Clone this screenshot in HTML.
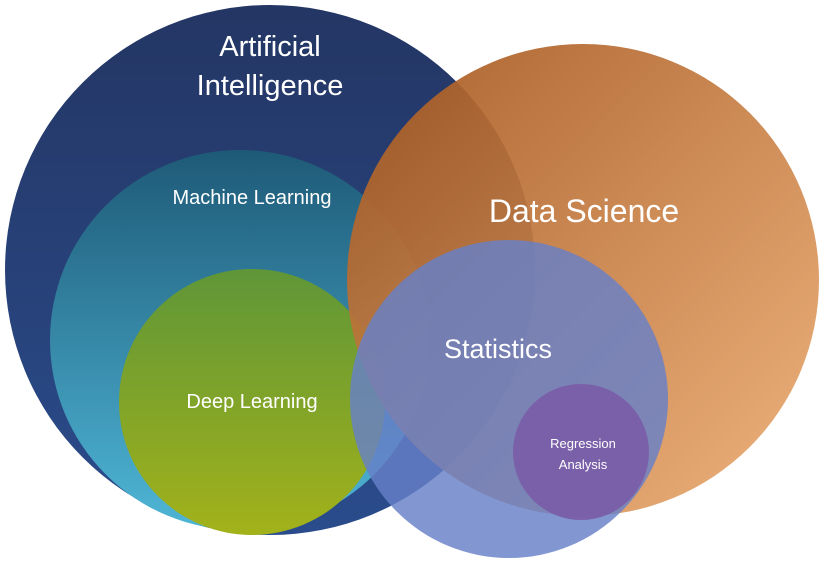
<!DOCTYPE html>
<html><head><meta charset="utf-8"><style>
html,body{margin:0;padding:0;background:#fff;}
svg{display:block}
text{font-family:"Liberation Sans",sans-serif;fill:#fff;text-anchor:middle}
</style></head><body>
<svg width="824" height="563" viewBox="0 0 824 563">
<defs>
<linearGradient id="ai" x1="0" y1="0" x2="0" y2="1"><stop offset="0" stop-color="#243664"/><stop offset="1" stop-color="#2a4c8c"/></linearGradient>
<linearGradient id="ml" x1="0" y1="0" x2="0" y2="1"><stop offset="0" stop-color="#1e5a78"/><stop offset="1" stop-color="#4fb6d6"/></linearGradient>
<linearGradient id="dl" x1="0" y1="0" x2="0" y2="1"><stop offset="0" stop-color="#5f9638"/><stop offset="1" stop-color="#a2b21a"/></linearGradient>
<linearGradient id="ds" x1="0" y1="0" x2="1" y2="1"><stop offset="0" stop-color="#a4561e"/><stop offset="1" stop-color="#eeae74"/></linearGradient>
</defs>
<circle cx="270" cy="270" r="265" fill="url(#ai)"/>
<circle cx="240" cy="340" r="190" fill="url(#ml)"/>
<circle cx="252" cy="402" r="133" fill="url(#dl)"/>
<circle cx="583" cy="280" r="236" fill="url(#ds)" fill-opacity="0.93"/>
<circle cx="509" cy="399" r="159" fill="#6680c8" fill-opacity="0.82"/>
<circle cx="581" cy="452" r="68" fill="#7a5ea8" fill-opacity="0.95"/>
<text x="270" y="56" font-size="29">Artificial</text>
<text x="270" y="95" font-size="29">Intelligence</text>
<text x="252" y="204" font-size="20">Machine Learning</text>
<text x="252" y="408" font-size="20">Deep Learning</text>
<text x="584" y="222" font-size="32">Data Science</text>
<text x="498" y="358" font-size="27">Statistics</text>
<text x="583" y="448" font-size="13">Regression</text>
<text x="583" y="469" font-size="13">Analysis</text>
</svg>
</body></html>
